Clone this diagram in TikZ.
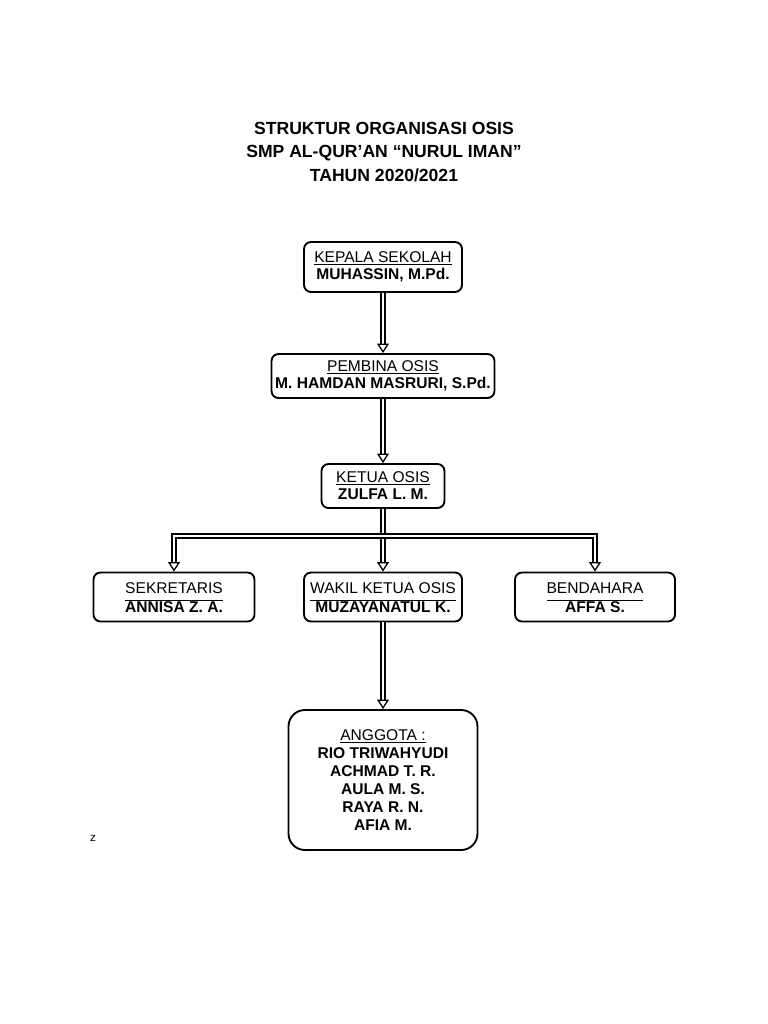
\documentclass[tikz,border=0pt]{standalone}
\usepackage{fontspec}
\setmainfont{Liberation Sans}
\usetikzlibrary{arrows.meta}
\tikzset{
  box/.style={draw, line width=1.6pt, rounded corners=6pt, align=center,
    inner sep=2pt, font=\fontsize{13.3}{14.5}\selectfont\bfseries},
  dbl/.style={double, line width=1.1pt, double distance=2.4pt,
    -{Triangle[open, length=8pt, width=10pt, line width=1.1pt]}},
}
\newcommand{\hd}[1]{\underline{\mdseries #1}}
\begin{document}
\begin{tikzpicture}[x=0.03cm,y=-0.03cm]
  \useasboundingbox (0,0) rectangle (768,1024);
  % Title
  \node[font=\fontsize{15}{20}\selectfont\bfseries, align=center] (title) at (384,152)
    {STRUKTUR ORGANISASI OSIS\\SMP AL-QUR'AN ``NURUL IMAN''\\TAHUN 2020/2021};
  % Boxes
  \node[box, minimum width=158*0.03cm, minimum height=50*0.03cm] (kepala) at (383,267)
    {\hd{KEPALA SEKOLAH}\\MUHASSIN, M.Pd.};
  \node[box, minimum width=223*0.03cm, minimum height=44*0.03cm] (pembina) at (383,376)
    {\hd{PEMBINA OSIS}\\M. HAMDAN MASRURI, S.Pd.};
  \node[box, minimum width=123*0.03cm, minimum height=44*0.03cm] (ketua) at (383,486)
    {\hd{KETUA OSIS}\\ZULFA L. M.};
  \node[box, minimum width=161*0.03cm, minimum height=49*0.03cm] (sekretaris) at (174,597)
    {\hd{SEKRETARIS\strut}\\ANNISA Z. A.};
  \node[box, minimum width=158*0.03cm, minimum height=49*0.03cm] (wakil) at (383,597)
    {\hd{WAKIL KETUA OSIS\strut}\\MUZAYANATUL K.};
  \node[box, minimum width=160*0.03cm, minimum height=49*0.03cm] (bendahara) at (595,597)
    {\hd{BENDAHARA\strut}\\AFFA S.};
  \node[box, rounded corners=14pt, minimum width=189*0.03cm, minimum height=140*0.03cm,
    font=\fontsize{13.3}{15.5}\selectfont\bfseries] (anggota) at (383,780)
    {\hd{ANGGOTA :}\\RIO TRIWAHYUDI\\ACHMAD T. R.\\AULA M. S.\\RAYA R. N.\\AFIA M.};
  \node[font=\fontsize{10}{11}\selectfont] (z) at (93,838) {z};
  % Connectors
  \draw[dbl] (kepala) -- (pembina);
  \draw[dbl] (pembina) -- (ketua);
  \draw[dbl] (ketua) -- (wakil);
  \draw[dbl] (ketua.south) ++(0,27) -| (sekretaris.north);
  \draw[dbl] (ketua.south) ++(0,27) -| (bendahara.north);
  \draw[dbl] (wakil) -- (anggota);
\end{tikzpicture}
\end{document}
